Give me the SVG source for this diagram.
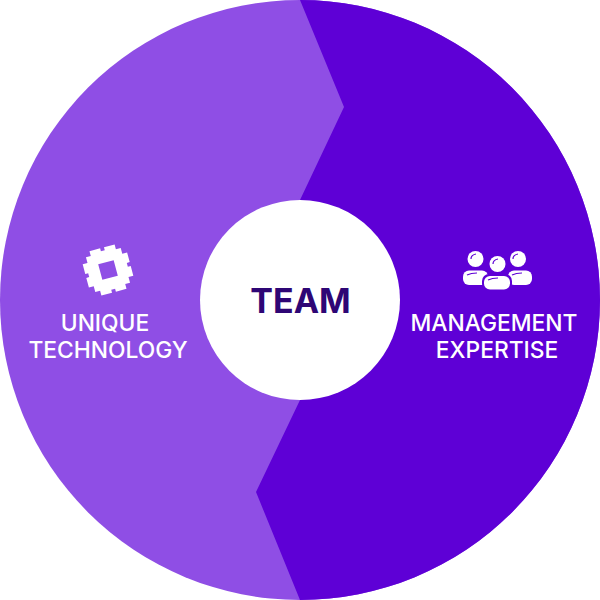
<svg xmlns="http://www.w3.org/2000/svg" width="600" height="600" viewBox="0 0 600 600">
<style>
.t{font-family:Inter,"Liberation Sans",sans-serif;fill:#fff;font-weight:500;font-size:22.8px;text-anchor:middle}
.w{fill:#fff}
.d{fill:none;stroke:#5e00d6;stroke-width:1.2}
</style>
<rect width="600" height="600" fill="#fff"/>
<g id="unique-technology">
<circle cx="300" cy="300" r="300" fill="#8f4ee5"/>
<g transform="rotate(-15 108 270)">
<path class="w" fill-rule="evenodd" d="M90 252H95V247H106V250H110V247H121V252H126V258H131V268H128V272H131V282H126V288H121V293H110V290H106V293H95V288H90V282H85V272H88V268H85V258H90ZM100 262V278H116V262Z"/>
</g>
<text class="t" x="105" y="331">UNIQUE</text>
<text class="t" x="108" y="358">TECHNOLOGY</text>
</g>
<g id="management-expertise">
<path d="M300 0A300 300 0 0 1 300 600L256 492L300 400V200L344 107Z" fill="#5e00d6"/>
<g id="people-icon">
<circle class="w" cx="475.500" cy="259" r="8"/>
<circle class="w" cx="497.500" cy="264" r="8"/>
<circle class="w" cx="518" cy="259" r="8"/>
<rect class="w" x="463" y="270.500" width="25" height="14.500" rx="6"/>
<rect class="w" x="508" y="270.500" width="24" height="14.500" rx="6"/>
<rect x="482" y="274" width="30" height="17" rx="7" fill="#5e00d6"/>
<rect class="w" x="484" y="276" width="26" height="13.500" rx="6"/>
<path class="d" d="M471 259Q471 255 476 254M493 264Q493 260 498 259M513 259Q513 255 518 254M467 275Q471 273 477 273M488 280Q492 278 498 278M512 275Q516 273 522 273"/>
</g>
<text class="t" x="494" y="331">MANAGEMENT</text>
<text class="t" x="497" y="358">EXPERTISE</text>
</g>
<g id="team">
<circle cx="300" cy="300" r="100" fill="#fff"/>
<text x="300.500" y="313" text-anchor="middle" font-family="Inter,'Liberation Sans',sans-serif" font-weight="700" font-size="34px" fill="#2e0675">TEAM</text>
</g>
<g id="connectors"/>
</svg>
